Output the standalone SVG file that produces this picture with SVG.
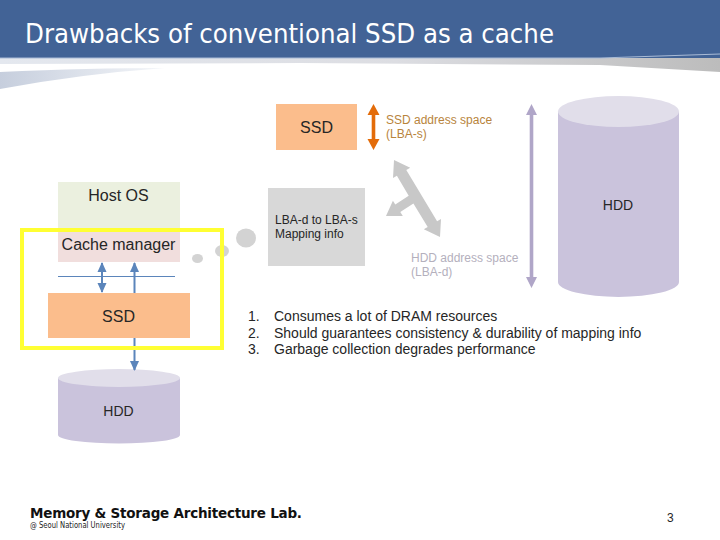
<svg xmlns="http://www.w3.org/2000/svg" width="720" height="540" viewBox="0 0 720 540">
<style>
text{font-family:"Liberation Sans",Arial,sans-serif;fill:#262626}
.cyl{fill:#cac3dc}.cyltop{fill:#e1deea}
.blue{stroke:#5b85bb;stroke-width:2;fill:none}
.t14{font-size:14px}.t12{font-size:12px}.t16{font-size:16px}
</style>
<defs>
<linearGradient id="gw" x1="0" x2="1" y1="0" y2="0"><stop offset="0" stop-color="#e4e8ef"/><stop offset="0.55" stop-color="#dcdde2"/><stop offset="1" stop-color="#bcbcbc"/></linearGradient>
<linearGradient id="gl" x1="0" x2="1" y1="0" y2="0"><stop offset="0" stop-color="#c6cedd"/><stop offset="1" stop-color="#f4f6f9"/></linearGradient>
<marker id="bh" viewBox="0 0 10 10" refX="9" refY="5" markerWidth="5" markerHeight="5" orient="auto-start-reverse" markerUnits="strokeWidth"><path d="M0 0.500L10 5L0 9.500Z" fill="#5b85bb"/></marker>
</defs>
<rect width="720" height="540" fill="#fff"/>
<g id="header">
<path d="M0 58H600L720 54V72L600 65L300 63L0 64Z" fill="url(#gw)"/>
<path d="M0 72Q90 68 165 68Q80 74 0 89Z" fill="url(#gl)"/>
<rect width="720" height="58" fill="#426396"/>
<path d="M0 58H600L720 54" fill="none" stroke="#a9bbd6" stroke-width="1"/>
<text x="25" y="43" textLength="529" lengthAdjust="spacingAndGlyphs" style="font-family:'DejaVu Sans Condensed','DejaVu Sans',sans-serif;font-size:27px;fill:#fff">Drawbacks of conventional SSD as a cache</text>
</g>
<g id="hdd-large">
<path class="cyl" d="M558 112V282A60.500 15 0 0 0 679 282V112Z"/>
<ellipse class="cyltop" cx="618.500" cy="111.500" rx="60.500" ry="15.500"/>
<text class="t14" x="618" y="210" text-anchor="middle">HDD</text>
</g>
<g id="host-os">
<rect x="58" y="182" width="122" height="47" fill="#ebf0df"/>
<text class="t16" x="118.500" y="201" text-anchor="middle">Host OS</text>
</g>
<g id="cache-manager">
<rect x="58" y="229" width="122" height="33" fill="#f1dedd"/>
<text class="t16" x="118.500" y="250" text-anchor="middle">Cache manager</text>
</g>
<g id="ssd-left">
<rect x="48" y="293" width="142" height="45" fill="#fbbd8c"/>
<text class="t16" x="118.500" y="321.500" text-anchor="middle">SSD</text>
</g>
<g id="hdd-small">
<path class="cyl" d="M58 378V435A61 8.500 0 0 0 180 435V378Z"/>
<ellipse class="cyltop" cx="119" cy="378" rx="61" ry="9"/>
<text class="t14" x="118.500" y="416" text-anchor="middle">HDD</text>
</g>
<g id="ssd-top">
<rect x="276" y="104" width="81" height="46" fill="#fbbd8c"/>
<text class="t16" x="316.500" y="132.500" text-anchor="middle">SSD</text>
</g>
<g id="mapping">
<rect x="268" y="188" width="97" height="78" fill="#d8d8d8"/>
<text class="t12" x="275" y="224">LBA-d to LBA-s</text>
<text class="t12" x="275" y="238">Mapping info</text>
</g>
<g id="bubbles" fill="#d3d3d3">
<ellipse cx="246" cy="238" rx="10" ry="9.500"/>
<ellipse cx="222" cy="251" rx="7" ry="6"/>
<ellipse cx="197.500" cy="258.500" rx="5.500" ry="4.500"/>
</g>
<g id="connectors">
<line class="blue" x1="58" y1="276.500" x2="175" y2="276.500" style="stroke-width:1"/>
<line class="blue" x1="102" y1="263" x2="102" y2="292" marker-start="url(#bh)" marker-end="url(#bh)"/>
<line class="blue" x1="134.500" y1="293" x2="134.500" y2="263" marker-end="url(#bh)"/>
<line class="blue" x1="134.500" y1="338" x2="134.500" y2="370" marker-end="url(#bh)"/>
<path fill="#e36c0a" d="M373.500 104L379.500 115H375.300V139H379.500L373.500 150L367.500 139H371.700V115H367.500Z"/>
<path fill="#b0a6c8" d="M531.500 104L537 115H533.300V277H537L531.500 288L526 277H529.700V115H526Z"/>
<path fill="#c8c8c8" d="M394 160L410.200 167.800L406.300 170.100L437.100 221.300L441 219L440 237L423.800 229.200L427.700 226.900L413.400 203.600L400.300 212.100L402.800 215.900L386 216L392.900 200.700L395.300 204.500L408.700 195.700L396.900 175.700L393 178Z"/>
</g>
<rect id="highlight" x="22" y="230" width="200" height="118" fill="none" stroke="#ffff33" stroke-width="4"/>
<g id="labels">
<text class="t12" x="386" y="124" style="fill:#b8843c">SSD address space</text>
<text class="t12" x="386" y="138" style="fill:#b8843c">(LBA-s)</text>
<text class="t12" x="411" y="262" style="fill:#b4b0bd">HDD address space</text>
<text class="t12" x="411" y="276" style="fill:#b4b0bd">(LBA-d)</text>
</g>
<g id="list" class="t14">
<text x="248" y="321">1.</text><text x="274" y="321">Consumes a lot of DRAM resources</text>
<text x="248" y="337.500">2.</text><text x="274" y="337.500">Should guarantees consistency &amp; durability of mapping info</text>
<text x="248" y="354">3.</text><text x="274" y="354">Garbage collection degrades performance</text>
</g>
<g id="footer">
<text x="30" y="518" textLength="272" lengthAdjust="spacing" style="font-family:'DejaVu Sans',sans-serif;font-size:13.500px;font-weight:700;fill:#111">Memory &amp; Storage Architecture Lab.</text>
<text x="30" y="528" textLength="95" lengthAdjust="spacingAndGlyphs" style="font-family:'DejaVu Sans',sans-serif;font-size:8px;fill:#222">@ Seoul National University</text>
<text x="667" y="522" class="t12">3</text>
</g>
</svg>
